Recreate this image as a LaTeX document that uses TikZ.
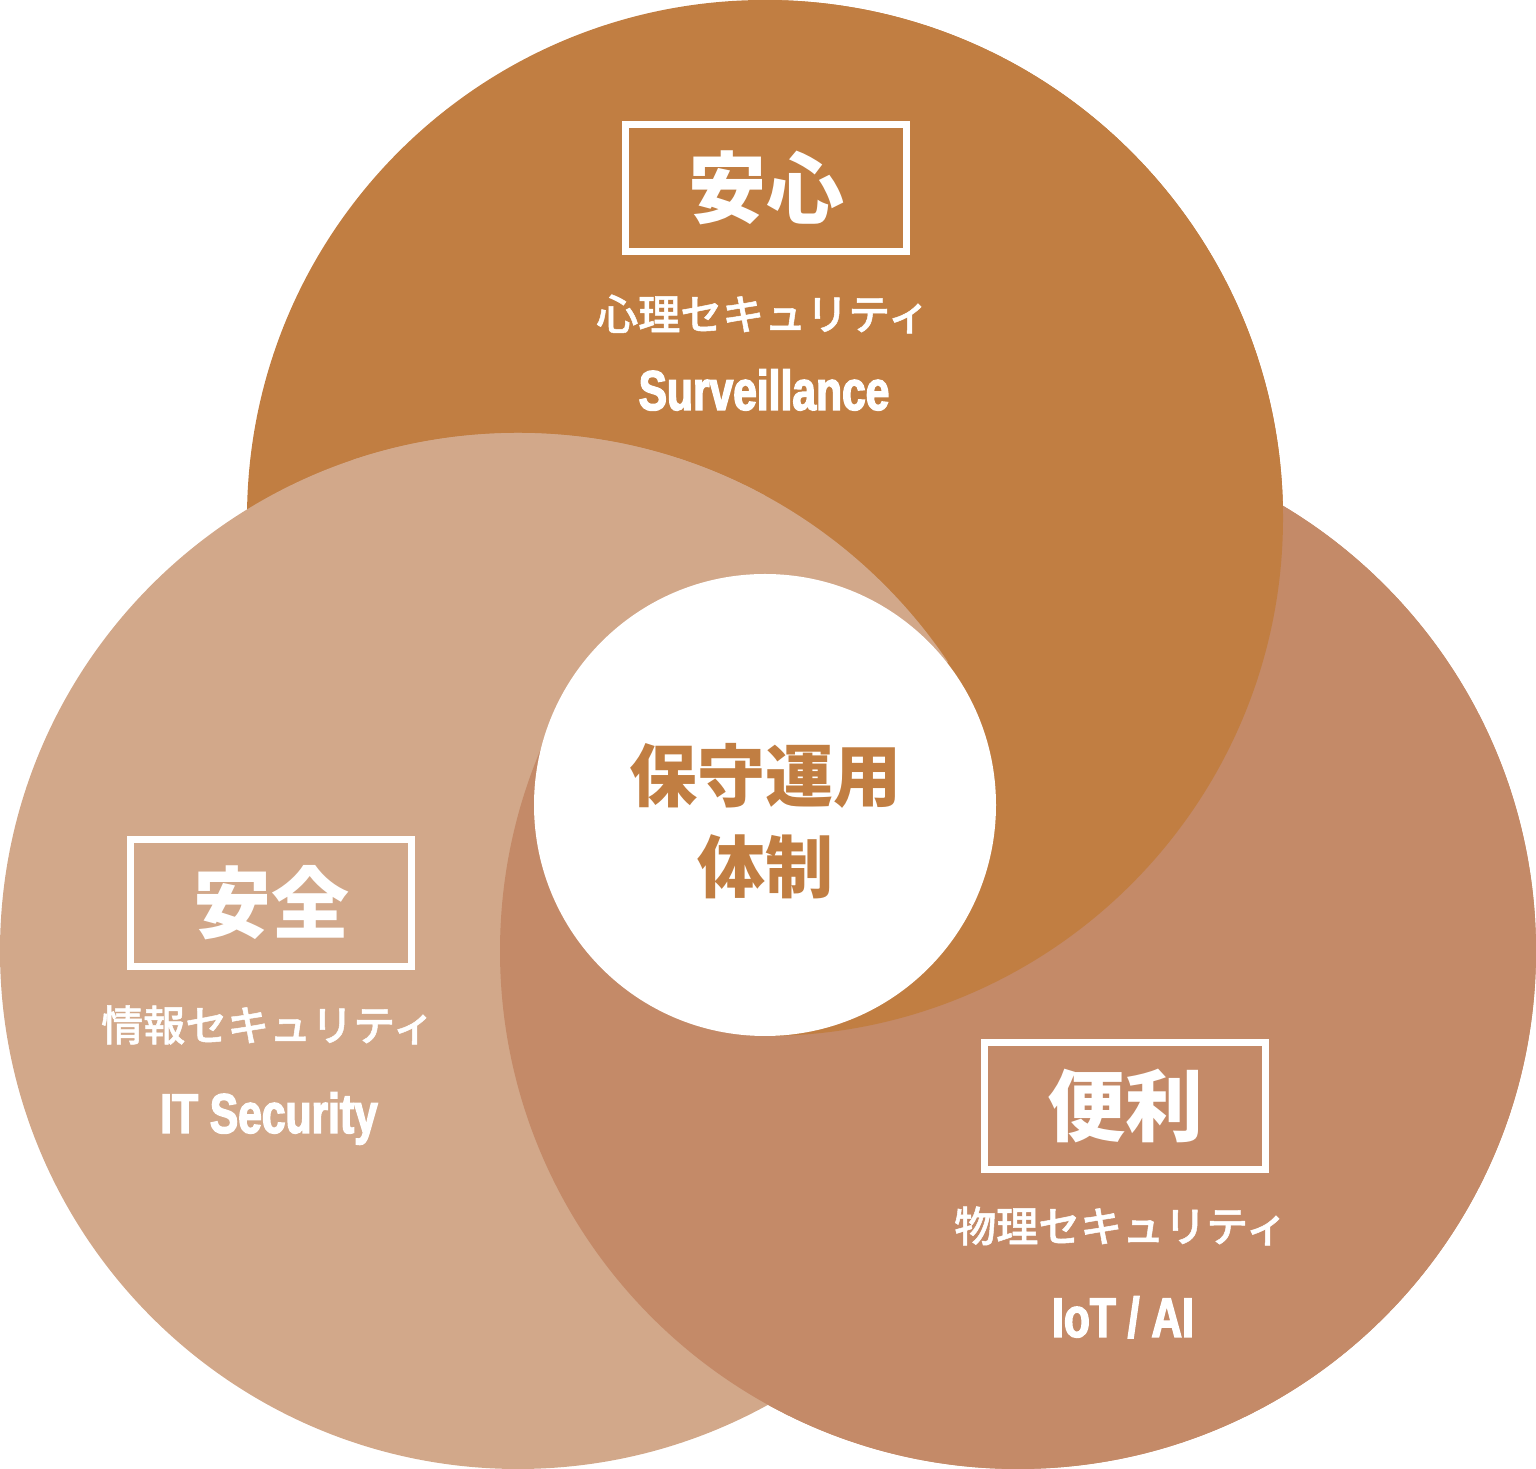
\documentclass[tikz,border=0pt]{standalone}
\usepackage{fontspec}
\usepackage{tikz}
\usetikzlibrary{positioning}
\newfontfamily\cjk{Noto Sans CJK JP}
\newfontfamily\cjkmid[FakeBold=1.2]{Noto Sans CJK JP Medium}
\newfontfamily\latin[FakeStretch=0.76, FakeBold=2.5]{Liberation Sans}
\definecolor{anshin}{HTML}{C17E42}
\definecolor{anzen}{HTML}{D2A88A}
\definecolor{benri}{HTML}{C48A68}
\tikzset{
  label box/.style={draw=white, line width=7pt, minimum width=281pt, minimum height=127pt, inner sep=0pt,
    text=white, font=\cjk\bfseries\fontsize{78}{78}\selectfont},
  subhead/.style={text=white, inner sep=0pt, font=\cjkmid\fontsize{42}{42}\selectfont},
  english/.style={text=white, inner sep=0pt, anchor=base, font=\latin\bfseries\fontsize{56}{56}\selectfont},
}
\newcommand{\disc}[1]{\fill[#1] (#1 c) circle (518);}
\newcommand{\wedgeclip}[2]{\clip (mid) -- ([shift={(#1:2500)}]mid) -- ([shift={({(#1+#2)/2}:2500)}]mid) -- ([shift={(#2:2500)}]mid) -- cycle;}

\begin{document}
\begin{tikzpicture}[x=1pt, y=1pt]
    \useasboundingbox (0,0) rectangle (1536,1469);
    \coordinate (anshin c) at (765,951);
    \coordinate (anzen c) at (518,518);
    \coordinate (benri c) at (1018,518);
    \coordinate (mid) at (765,664);
    % base discs
    \disc{anshin}\disc{benri}\disc{anzen}
    % benri over anzen, anshin over benri, anzen over all in the top corner
    \begin{scope}
      \wedgeclip{150}{390}
      \disc{benri}
    \end{scope}
    \begin{scope}
      \wedgeclip{-90}{90}
      \disc{anshin}
    \end{scope}
    \begin{scope}
      \wedgeclip{38}{140}
      \disc{anzen}
    \end{scope}
    \fill[white] (mid) circle (231);

    \node[label box] (anshin box) at (766,1281) {安心};
    \node[subhead] (anshin sub) at (763,1155) {心理セキュリティ};
    \node[english] (anshin en) at (764,1059) {Surveillance};

    \node[label box] (anzen box) at (271,566) {安全};
    \node[subhead] (anzen sub) at (268,444) {情報セキュリティ};
    \node[english] (anzen en) at (269,336) {IT Security};

    \node[label box] (benri box) at (1125,363) {便利};
    \node[subhead] (benri sub) at (1121,243) {物理セキュリティ};
    \node[english] (benri en) at (1123,132) {IoT / AI};

    \node[text=anshin, align=center, font=\cjk\bfseries\fontsize{68}{91}\selectfont] (core) at (765,648) {保守運用\\体制};
\end{tikzpicture}
\end{document}
